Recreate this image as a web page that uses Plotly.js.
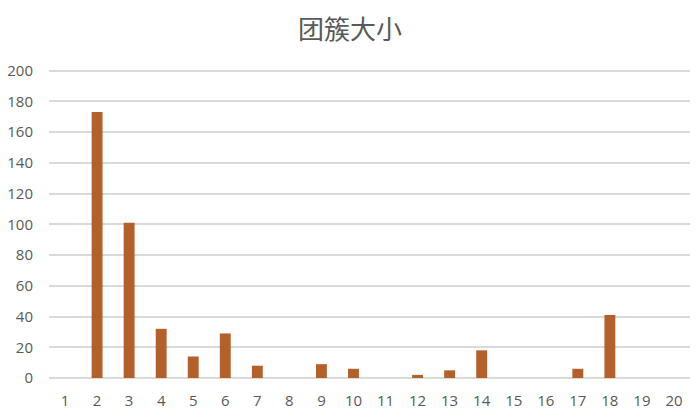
<!DOCTYPE html>
<html>
<head>
<meta charset="utf-8">
<script src="https://cdn.plot.ly/plotly-3.0.1.min.js"></script>
<style>
  html, body { margin: 0; padding: 0; background: #fff; }
  #chart { width: 700px; height: 420px; }
</style>
</head>
<body>
<div id="chart"></div>
<script>
// cluster sizes 1..20 and their counts
const sizes  = ['1','2','3','4','5','6','7','8','9','10',
                '11','12','13','14','15','16','17','18','19','20'];
const counts = [0, 173, 101, 32, 14, 29, 8, 0, 9, 6,
                0, 2, 5, 18, 0, 0, 6, 41, 0, 0];
const yTicks = [0, 20, 40, 60, 80, 100, 120, 140, 160, 180, 200];

const BAR_COLOR = '#b5602a';
const TEXT_COLOR = '#595959';
const GRID_COLOR = '#d9d9d9';

const traces = [{
  type: 'bar',
  x: sizes, y: counts,
  marker: { color: BAR_COLOR },
  width: 0.34,
  hoverinfo: 'x+y',
}];

const tickFont = { family: '"Open Sans", sans-serif', size: 15, color: TEXT_COLOR };

const layout = {
  width: 700, height: 420,
  paper_bgcolor: '#fff', plot_bgcolor: '#fff',
  title: {
    text: '团簇大小',
    font: { family: '"Noto Sans CJK SC", sans-serif', size: 26, color: TEXT_COLOR },
    x: 0.5, xanchor: 'center', y: 0.93, yanchor: 'middle',
  },
  // a little headroom above 200 so its gridline is kept
  margin: { l: 49, r: 10, t: 66, b: 42 },
  showlegend: false,
  xaxis: {
    type: 'category',
    showgrid: false, zeroline: false,
    showline: false, ticks: '',
    ticklabelstandoff: 12,
    tickfont: tickFont,
  },
  yaxis: {
    range: [0, 203],
    tickvals: yTicks,
    gridcolor: GRID_COLOR, gridwidth: 2,
    zeroline: true, zerolinecolor: GRID_COLOR, zerolinewidth: 2,
    showline: false, ticks: '',
    ticklabelstandoff: 15,
    tickfont: tickFont,
  },
};

Plotly.newPlot('chart', traces, layout, { displayModeBar: false, staticPlot: true });
</script>
</body>
</html>
